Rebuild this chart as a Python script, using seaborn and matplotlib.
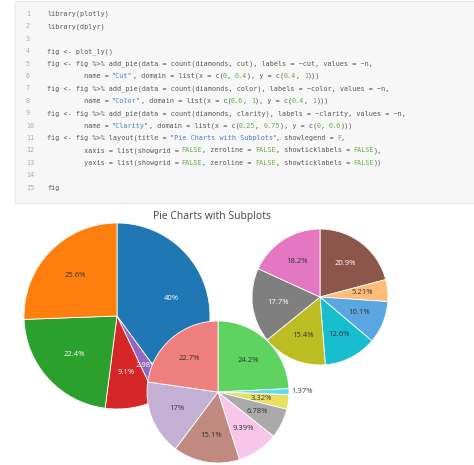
import re
import numpy as np
import matplotlib
matplotlib.use("Agg")
import matplotlib.pyplot as plt
import seaborn as sns
from matplotlib.patches import Rectangle

sns.set_theme(style="white")
plt.rcParams['font.family'] = ['Open Sans', 'DejaVu Sans']

# data (clockwise from 12 o'clock, as in the picture)
cut_values = [40, 2.98, 9.1, 22.4, 25.6]
cut_labels = ["40%", "2.98%", "9.1%", "22.4%", "25.6%"]
cut_colors = ["#1f77b4", "#9467bd", "#d62728", "#2ca02c", "#ff7f0e"]

color_values = [20.9, 5.21, 10.1, 12.6, 15.4, 17.7, 18.2]
color_labels = ["20.9%", "5.21%", "10.1%", "12.6%", "15.4%", "17.7%", "18.2%"]
color_colors = ["#8c564b", "#ffbb78", "#5aa6e0", "#17becf", "#bcbd22", "#7f7f7f", "#e377c2"]

clarity_values = [24.2, 1.37, 3.32, 6.78, 9.39, 15.1, 17, 22.7]
clarity_labels = ["24.2%", "1.37%", "3.32%", "6.78%", "9.39%", "15.1%", "17%", "22.7%"]
clarity_colors = ["#5fd35f", "#5fdcf0", "#e8e060", "#aaaaaa", "#f7c6e8", "#c08a80", "#c5b0d5", "#f07f7f"]

code_lines = [
    'library(plotly)',
    'library(dplyr)',
    '',
    'fig <- plot_ly()',
    'fig <- fig %>% add_pie(data = count(diamonds, cut), labels = ~cut, values = ~n,',
    '         name = "Cut", domain = list(x = c(0, 0.4), y = c(0.4, 1)))',
    'fig <- fig %>% add_pie(data = count(diamonds, color), labels = ~color, values = ~n,',
    '         name = "Color", domain = list(x = c(0.6, 1), y = c(0.4, 1)))',
    'fig <- fig %>% add_pie(data = count(diamonds, clarity), labels = ~clarity, values = ~n,',
    '         name = "Clarity", domain = list(x = c(0.25, 0.75), y = c(0, 0.6)))',
    'fig <- fig %>% layout(title = "Pie Charts with Subplots", showlegend = F,',
    '         xaxis = list(showgrid = FALSE, zeroline = FALSE, showticklabels = FALSE),',
    '         yaxis = list(showgrid = FALSE, zeroline = FALSE, showticklabels = FALSE))',
    '',
    'fig',
]

W, H = 474, 465
fig = plt.figure(figsize=(W / 100, H / 100), dpi=100)
fig.patch.set_facecolor("white")

# code block
fig.patches.append(Rectangle((15 / W, 1 - 203 / H), 1 - 15 / W, 202 / H,
                             transform=fig.transFigure, facecolor="#f7f7f7",
                             edgecolor="#e8e8e8", lw=0.8))
fs = 4.9
cw = 0.6 * fs / 72 * 100 / W
tok = re.compile(r'("[^"]*"|\bFALSE\b|\bF\b|\b\d+(?:\.\d+)?\b)')
for i, line in enumerate(code_lines):
    y = 1 - (14 + i * 12.4) / H
    fig.text(26 / W, y, str(i + 1), fontsize=fs, color="#aaaaaa",
             family="DejaVu Sans Mono", va="center")
    pos = 0
    for part in tok.split(line):
        if not part:
            continue
        if part.startswith('"'):
            c = "#4a7ccf"
        elif tok.fullmatch(part):
            c = "#6aa84f"
        else:
            c = "#555555"
        fig.text(47 / W + pos * cw, y, part, fontsize=fs, color=c,
                 family="DejaVu Sans Mono", va="center")
        pos += len(part)

fig.text(212 / W, 1 - 216 / H, "Pie Charts with Subplots", fontsize=7.5,
         color="#444444", ha="center", va="center")


def lum(hexc):
    r, g, b = matplotlib.colors.to_rgb(hexc)
    return 0.299 * r + 0.587 * g + 0.114 * b


def draw_pie(cx, cy, r, values, labels, colors, outside=()):
    ax = fig.add_axes([(cx - r) / W, 1 - (cy + r) / H, 2 * r / W, 2 * r / H])
    wedges, _ = ax.pie(values, colors=colors, startangle=90, counterclock=False,
                       wedgeprops=dict(edgecolor="white", linewidth=0.6))
    for w, lab, col in zip(wedges, labels, colors):
        ang = np.deg2rad((w.theta1 + w.theta2) / 2)
        if lab in outside:
            d, tc = 1.18, "#444444"
        else:
            d = 0.62
            tc = "white" if lum(col) < 0.5 else "#333333"
        ax.text(d * np.cos(ang), d * np.sin(ang), lab, fontsize=5.5,
                color=tc, ha="center", va="center")
    ax.set_xlim(-1, 1)
    ax.set_ylim(-1, 1)
    ax.set_aspect("equal")
    ax.axis("off")


draw_pie(117, 316, 93, cut_values, cut_labels, cut_colors)
draw_pie(320, 297, 68, color_values, color_labels, color_colors)
draw_pie(218, 392, 71, clarity_values, clarity_labels, clarity_colors, outside=("1.37%",))

fig.savefig("out.png", dpi=100)
